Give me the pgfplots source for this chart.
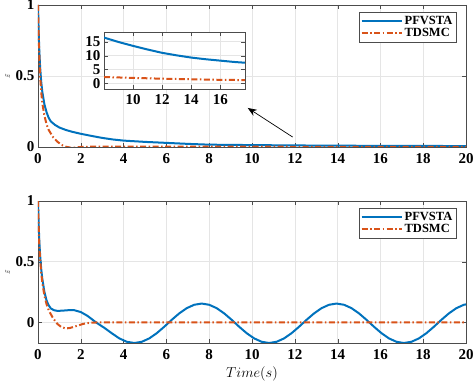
\documentclass[border=0pt]{standalone}
\usepackage{pgfplots}
\pgfplotsset{compat=1.18}
\usetikzlibrary{arrows.meta}
\usepackage{fontspec}
\setmainfont{Liberation Serif}
\definecolor{mblue}{rgb}{0,0.447,0.741}
\definecolor{morange}{rgb}{0.85,0.325,0.098}
\tikzset{mdashdot/.style={dash pattern=on 6pt off 2.5pt on 1.5pt off 2.5pt}}
\newcommand{\tickfont}{\fontsize{15}{17}\selectfont\bfseries}
\pgfplotsset{
  mstyle/.style={
    scale only axis,
    width=428pt, height=142pt,
    xmin=0, xmax=20,
    xtick={0,2,4,6,8,10,12,14,16,18,20},
    xticklabels={0,2,4,6,8,10,12,14,16,18,20},
    ytick={0,0.5,1},
    yticklabels={0,0.5,1},
    grid=major,
    major grid style={gray!20, line width=0.5pt},
    axis line style={black!70, line width=0.6pt},
    tick align=inside,
    tick style={black!70},
    xticklabel style={font=\tickfont, yshift=-3pt},
    yticklabel style={font=\tickfont},
    ylabel={$\tilde{z}$},
    ylabel style={font=\scriptsize, yshift=-1pt},
    legend style={font=\fontsize{12.5}{14}\selectfont\bfseries, draw=black!70, line width=0.5pt, inner sep=2pt, row sep=-2pt},
    legend cell align=left,
    legend image code/.code={\draw[#1, line width=1.8pt] (0pt,0pt) -- (40pt,0pt);},
  }
}
\begin{document}
\begin{tikzpicture}
% ---------- top ----------
\begin{axis}[mstyle, at={(0,0)}, anchor=south west, ymin=0, ymax=1,
  legend style={at={(rel axis cs:0.978,0.95)}, anchor=north east}]
\addplot[mblue, line width=2pt] coordinates {
(0,1) (0.03,0.82) (0.06,0.68) (0.1,0.56) (0.15,0.46) (0.2,0.39) (0.3,0.30) (0.4,0.245) (0.5,0.205) (0.6,0.18) (0.8,0.155) (1,0.137) (1.3,0.12) (1.6,0.107) (2,0.093) (2.5,0.078) (3,0.064) (3.5,0.053) (4,0.045) (5,0.036) (6,0.029) (7,0.022) (8,0.0164) (9,0.0148) (10,0.0135) (11,0.0122) (12,0.011) (13,0.0101) (14,0.0093) (15,0.0087) (16,0.0082) (17,0.0077) (18,0.0073) (19,0.007) (20,0.0067)};
\addlegendentry{PFVSTA}
\addplot[morange, line width=2pt, mdashdot] coordinates {
(0,1) (0.03,0.8) (0.06,0.64) (0.1,0.5) (0.15,0.39) (0.2,0.31) (0.3,0.22) (0.4,0.16) (0.5,0.12) (0.7,0.07) (0.9,0.038) (1.1,0.015) (1.3,0.002) (1.5,-0.004) (1.7,-0.004) (2,0.0) (2.5,0.002) (3,0.0028) (4,0.0028) (6,0.0026) (8,0.0023) (10,0.002) (12,0.0017) (14,0.0015) (16,0.0013) (18,0.0012) (20,0.0011)};
\addlegendentry{TDSMC}
\draw[-{Stealth[length=9pt,width=7pt]}, black, line width=0.7pt] (axis cs:11.9,0.07) -- (axis cs:9.8,0.275);
\end{axis}
% ---------- inset ----------
\begin{axis}[at={(66pt,58pt)}, anchor=south west, scale only axis,
  width=141pt, height=57pt,
  xmin=8, xmax=17.7, ymin=-2, ymax=18.5,
  xtick={10,12,14,16}, xticklabels={10,12,14,16},
  ytick={0,5,10,15}, yticklabels={0,5,10,15},
  grid=major, major grid style={gray!20, line width=0.5pt},
  axis line style={black!70, line width=0.6pt},
  tick align=inside, tick style={black!70},
  xticklabel style={font=\tickfont, yshift=-2pt},
  yticklabel style={font=\tickfont},
  axis background/.style={fill=white},
  clip=true]
\addplot[mblue, line width=2pt] coordinates {
(8,16.5) (9,14.9) (10,13.5) (11,12.2) (12,11.0) (13,10.1) (14,9.3) (15,8.7) (16,8.2) (17,7.7) (17.7,7.45)};
\addplot[morange, line width=2pt, mdashdot] coordinates {
(8,2.3) (10,2.0) (12,1.7) (14,1.5) (16,1.3) (17.7,1.2)};
\node[anchor=south west, inner sep=1pt, font=\tickfont] at (rel axis cs:0,1) {×10\textsuperscript{-3}};
\end{axis}
% ---------- bottom ----------
\begin{axis}[mstyle, at={(0,-196pt)}, anchor=south west, ymin=-0.17, ymax=1,
  xlabel={$Time(s)$}, xlabel style={font=\fontsize{15}{17}\selectfont, yshift=0pt},
  legend style={at={(rel axis cs:0.978,0.95)}, anchor=north east}]
\addplot[mblue, line width=2pt] coordinates {
(0,1) (0.03,0.82) (0.06,0.67) (0.1,0.55) (0.15,0.44) (0.2,0.36) (0.3,0.25) (0.4,0.18) (0.5,0.14) (0.6,0.115) (0.75,0.1) (0.9,0.095) (1.1,0.096) (1.4,0.1) (1.7,0.1) (2.0,0.085) (2.3,0.055) (2.6,0.015) (2.75,-0.005) (3.1,-0.045) (3.45,-0.09) (3.8,-0.132) (4.15,-0.160) (4.5,-0.170) (4.85,-0.160) (5.2,-0.132) (5.55,-0.089) (5.9,-0.036) (6.25,0.021) (6.6,0.074) (6.95,0.117) (7.3,0.145) (7.65,0.155) (8.0,0.145) (8.35,0.117) (8.7,0.074) (9.05,0.021) (9.4,-0.036) (9.75,-0.089) (10.1,-0.132) (10.45,-0.160) (10.8,-0.170) (11.15,-0.160) (11.5,-0.132) (11.85,-0.089) (12.2,-0.036) (12.55,0.021) (12.9,0.074) (13.25,0.117) (13.6,0.145) (13.95,0.155) (14.3,0.145) (14.65,0.117) (15.0,0.074) (15.35,0.021) (15.7,-0.036) (16.05,-0.089) (16.4,-0.132) (16.75,-0.160) (17.1,-0.170) (17.45,-0.160) (17.8,-0.132) (18.15,-0.089) (18.5,-0.036) (18.85,0.021) (19.2,0.074) (19.55,0.117) (19.9,0.145) (20,0.148)};
\addlegendentry{PFVSTA}
\addplot[morange, line width=2pt, mdashdot] coordinates {
(0,1) (0.03,0.8) (0.06,0.64) (0.1,0.52) (0.15,0.41) (0.2,0.33) (0.3,0.22) (0.4,0.15) (0.5,0.1) (0.7,0.035) (0.9,-0.012) (1.1,-0.04) (1.3,-0.05) (1.5,-0.046) (1.8,-0.03) (2.1,-0.013) (2.4,-0.004) (2.8,0) (20,0)};
\addlegendentry{TDSMC}
\end{axis}
\pgfresetboundingbox
\path (-38pt,-235pt) rectangle (436pt,147pt);
\end{tikzpicture}
\end{document}
